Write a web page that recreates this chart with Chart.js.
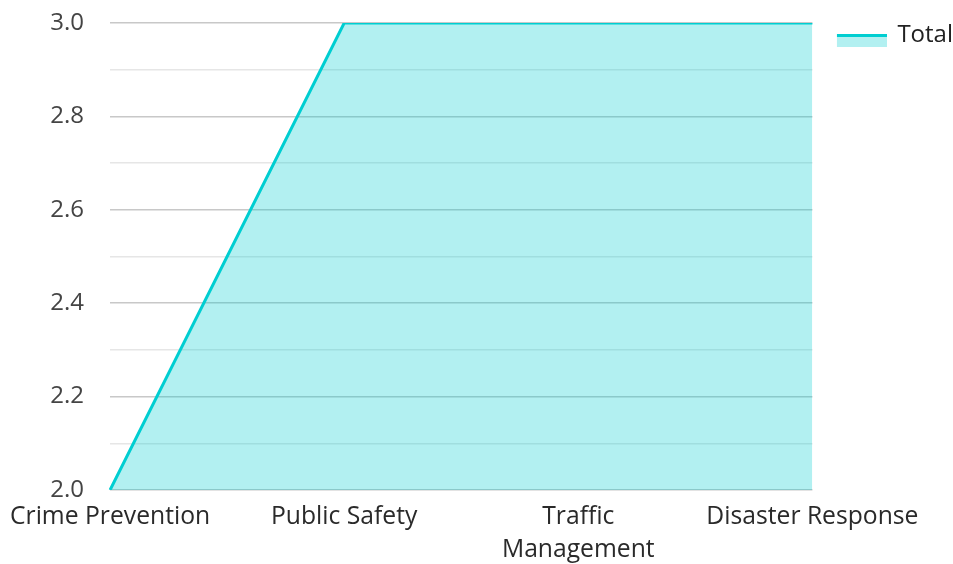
<!DOCTYPE html>
<html>
<head>
<meta charset="utf-8">
<script src="https://cdn.jsdelivr.net/npm/chart.js@4.4.1/dist/chart.umd.min.js"></script>
<style>
  html, body { margin: 0; padding: 0; background: #fff; }
  #wrap { width: 953px; height: 564px; }
</style>
</head>
<body>
<div id="wrap"><canvas id="totalChart"></canvas></div>
<script>
// chart data
const categories = ["Crime Prevention", "Public Safety", ["Traffic", "Management"], "Disaster Response"];
const totalValues = [2, 3, 3, 3];
const seriesLabel = "Total";
const yMin = 2.0;
const yMax = 3.0;
const yStep = 0.1;

const lineColor = "#00CED1";
const fillColor = "rgba(0, 206, 209, 0.3)";

// legend swatch: line on top, fill below (left part left blank as a gap)
function makeSwatch() {
  const c = document.createElement("canvas");
  c.width = 76;
  c.height = 26;
  const g = c.getContext("2d");
  g.fillStyle = fillColor;
  g.fillRect(26, 15, 50, 10);
  g.fillStyle = lineColor;
  g.fillRect(26, 12, 50, 3);
  return c;
}

Chart.defaults.font.family = "'Open Sans', 'Noto Sans', sans-serif";
Chart.defaults.font.size = 24;
Chart.defaults.color = "#444";

const ctx = document.getElementById("totalChart").getContext("2d");
new Chart(ctx, {
  type: "line",
  data: {
    labels: categories,
    datasets: [{
      label: seriesLabel,
      data: totalValues,
      borderColor: lineColor,
      backgroundColor: fillColor,
      borderWidth: 3,
      fill: "origin",
      tension: 0,
      pointRadius: 0,
      pointStyle: makeSwatch()
    }]
  },
  options: {
    responsive: true,
    maintainAspectRatio: false,
    animation: false,
    layout: { padding: { top: 23, right: -10, bottom: 0, left: 8 } },
    plugins: {
      legend: {
        position: "right",
        align: "start",
        labels: {
          usePointStyle: true,
          pointStyleWidth: 73,
          color: "#222",
          padding: 0
        }
      },
      tooltip: { enabled: false }
    },
    scales: {
      x: {
        grid: { display: false, drawTicks: false },
        border: { display: false },
        ticks: {
          maxRotation: 0,
          autoSkip: false,
          padding: 10,
          color: "#2a2a2a",
          font: { size: 24.7, lineHeight: 1.36 }
        },
        afterFit: scale => { scale.height = 74; }
      },
      y: {
        min: yMin,
        max: yMax,
        border: { display: false },
        grid: {
          drawTicks: true,
          tickLength: 25,
          tickColor: "rgba(0,0,0,0)",
          lineWidth: 1.5,
          color: c => (Math.round(c.tick.value * 10) % 2 === 0 ? "#c8c8c8" : "#e6e6e6")
        },
        ticks: {
          stepSize: yStep,
          padding: 1,
          autoSkip: false,
          callback: v => (Math.round(v * 10) % 2 === 0 ? v.toFixed(1) : "")
        }
      }
    }
  }
});
</script>
</body>
</html>
